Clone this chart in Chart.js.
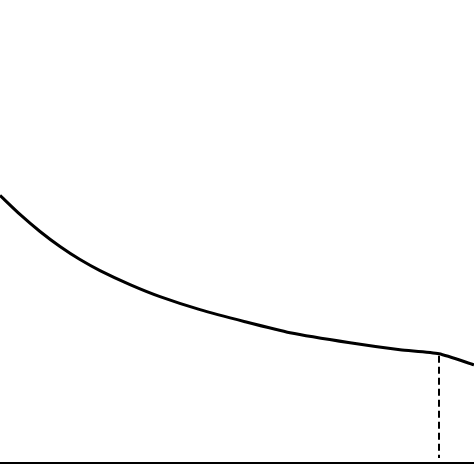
<!DOCTYPE html>
<html>
<head>
<meta charset="utf-8">
<script src="https://cdn.jsdelivr.net/npm/chart.js@4.4.1/dist/chart.umd.min.js"></script>
<style>
    html, body { margin: 0; padding: 0; background: #fff; }
    #wrap { width: 474px; height: 474px; }
</style>
</head>
<body>
<div id="wrap"><canvas id="chart"></canvas></div>
<script>
// --- Data ---
const curveX = [0, 20, 40, 60, 80, 100, 130, 160, 200, 245, 290, 350, 400, 439, 474];
const curveY = [267, 248, 231, 216, 203, 192, 178, 166, 153, 141, 130, 120, 113, 109, 98];
const markerX = [439, 439];
const markerY = [107, 5];

function toPoints(xs, ys) {
    return xs.map((x, i) => ({ x: x, y: ys[i] }));
}

const ctx = document.getElementById('chart').getContext('2d');
new Chart(ctx, {
    type: 'line',
    data: {
        datasets: [
            {
                data: toPoints(curveX, curveY),
                borderColor: '#000',
                borderWidth: 3,
                pointRadius: 0,
                tension: 0.2,
                fill: false
            },
            {
                data: toPoints(markerX, markerY),
                borderColor: '#000',
                borderWidth: 2,
                borderDash: [7, 4],
                pointRadius: 0,
                fill: false
            }
        ]
    },
    options: {
        responsive: true,
        maintainAspectRatio: false,
        animation: false,
        layout: { padding: { left: 0, right: 0, top: 0, bottom: 3 } },
        plugins: { legend: { display: false }, tooltip: { enabled: false } },
        scales: {
            x: {
                type: 'linear',
                min: 0,
                max: 474,
                grid: { display: false },
                border: { display: true, color: '#000', width: 2 },
                ticks: { display: false }
            },
            y: {
                min: 0,
                max: 462,
                display: false
            }
        }
    }
});
</script>
</body>
</html>
